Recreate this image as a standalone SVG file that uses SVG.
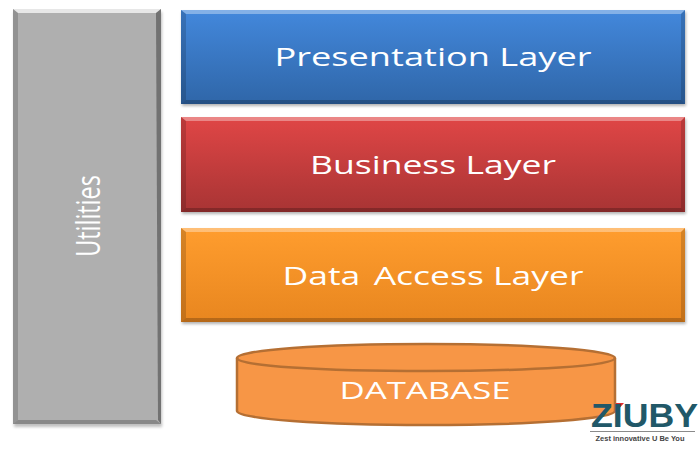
<svg xmlns="http://www.w3.org/2000/svg" width="700" height="450" viewBox="0 0 700 450">
<style>
text{font-family:"Open Sans","Noto Sans","Liberation Sans",sans-serif;fill:#fff;text-anchor:middle}
.lbl{font-size:26px;font-weight:500}
.hi{fill:#fff;opacity:.35}
.lo{fill:#000;opacity:.22}
.side{fill:#000;opacity:.16}
</style>
<defs>
<linearGradient id="blue" x1="0" y1="0" x2="0" y2="1"><stop offset="0" stop-color="#4388dc"/><stop offset="1" stop-color="#2f66a8"/></linearGradient>
<linearGradient id="red" x1="0" y1="0" x2="0" y2="1"><stop offset="0" stop-color="#e04646"/><stop offset="1" stop-color="#a83434"/></linearGradient>
<linearGradient id="orange" x1="0" y1="0" x2="0" y2="1"><stop offset="0" stop-color="#ff9d2e"/><stop offset="1" stop-color="#e8861f"/></linearGradient>
<filter id="sh" x="-5%" y="-5%" width="110%" height="115%"><feGaussianBlur stdDeviation="1.5"/></filter>
</defs>
<rect width="700" height="450" fill="#fff"/>
<g id="utilities">
<rect x="14" y="12" width="148" height="415" fill="#000" opacity=".25" filter="url(#sh)"/>
<rect x="13" y="9" width="148" height="415" fill="#afafaf"/>
<polygon class="hi" points="13,9 161,9 156,13 18,13" style="opacity:.7"/>
<polygon class="side" points="13,9 18,13 18,420 13,424"/>
<polygon class="lo" points="161,9 156,13 158,420 161,424" style="opacity:.35"/>
<polygon class="lo" points="13,424 18,420 156,420 161,424"/>
<text transform="translate(100 216) rotate(-90) scale(.78 1.12)" font-size="30">Utilities</text>
</g>
<g id="presentation">
<rect x="182" y="12" width="504" height="94" fill="#000" opacity=".3" filter="url(#sh)"/>
<rect x="181" y="10" width="504" height="94" fill="url(#blue)"/>
<polygon class="hi" points="181,10 685,10 681,14 186,14"/>
<polygon class="side" points="181,10 186,14 186,100 181,104"/>
<polygon class="side" points="685,10 681,14 681,100 685,104"/>
<polygon class="lo" points="181,104 186,100 681,100 685,104"/>
<text class="lbl" x="433" y="66" textLength="317" lengthAdjust="spacingAndGlyphs">Presentation Layer</text>
</g>
<g id="business">
<rect x="182" y="119" width="504" height="95" fill="#000" opacity=".3" filter="url(#sh)"/>
<rect x="181" y="117" width="504" height="95" fill="url(#red)"/>
<polygon class="hi" points="181,117 685,117 681,121 186,121"/>
<polygon class="side" points="181,117 186,121 186,208 181,212"/>
<polygon class="side" points="685,117 681,121 681,208 685,212"/>
<polygon class="lo" points="181,212 186,208 681,208 685,212"/>
<text class="lbl" x="433" y="174" textLength="246" lengthAdjust="spacingAndGlyphs">Business Layer</text>
</g>
<g id="dataaccess">
<rect x="182" y="230" width="504" height="94" fill="#000" opacity=".3" filter="url(#sh)"/>
<rect x="181" y="228" width="504" height="94" fill="url(#orange)"/>
<polygon class="hi" points="181,228 685,228 681,232 186,232"/>
<polygon class="side" points="181,228 186,232 186,318 181,322"/>
<polygon class="side" points="685,228 681,232 681,318 685,322"/>
<polygon class="lo" points="181,322 186,318 681,318 685,322"/>
<text class="lbl" x="433" y="285" textLength="301" lengthAdjust="spacingAndGlyphs">Data <tspan dx="3">Access Layer</tspan></text>
</g>
<g id="database">
<path d="M237 358V411C237 419 322 425 426 425S615 419 615 411V358C615 350 530 344 426 344S237 350 237 358Z" fill="#f79646" stroke="#b56f33" stroke-width="2.5"/>
<path d="M237 358C237 366 322 371 426 371S615 366 615 358" fill="none" stroke="#b56f33" stroke-width="2.5"/>
<text x="425" y="399" font-size="24" font-weight="500" textLength="171" lengthAdjust="spacingAndGlyphs">DATABASE</text>
</g>
<g id="logo">
<polygon points="616,412 624,403 616,403" fill="#e02b2b"/>
<text x="644.500" y="427" font-size="33" font-weight="700" textLength="107" lengthAdjust="spacingAndGlyphs" style="font-family:'Liberation Sans',sans-serif;fill:#215868">ZIUBY</text>
<rect x="590" y="431" width="105" height="1" fill="#8a8a8a"/>
<text x="640" y="441" font-size="7.500" font-weight="700" textLength="89" lengthAdjust="spacingAndGlyphs" style="font-family:'Liberation Sans',sans-serif;fill:#444">Zest innovative U Be You</text>
</g>
</svg>
